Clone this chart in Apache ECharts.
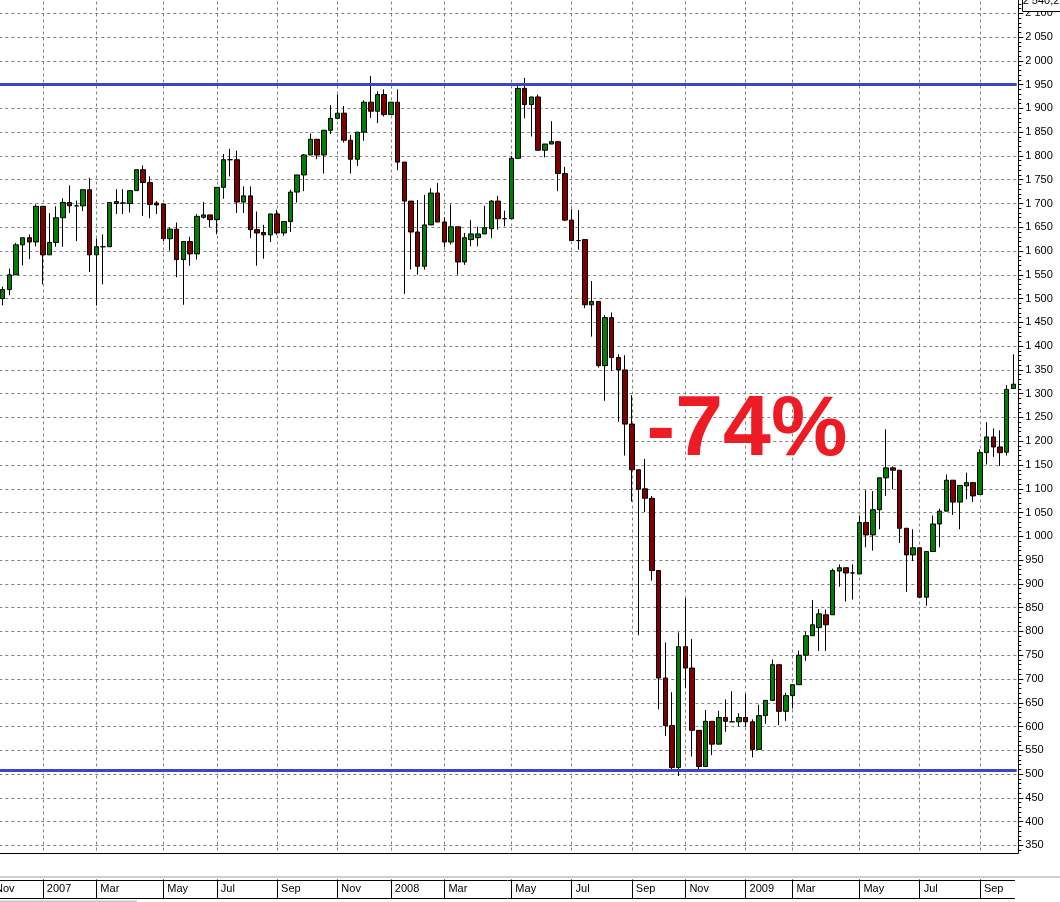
<!DOCTYPE html>
<html><head><meta charset="utf-8">
<script src="https://cdn.jsdelivr.net/npm/echarts@6/dist/echarts.min.js"></script>
<style>html,body{margin:0;padding:0;background:#fff;overflow:hidden}#c{width:1060px;height:902px}</style>
</head><body><div id="c"></div><script>
// Weekly OHLC
const opens = [1500,1519,1550,1613,1628,1619,1694,1592,1618,1670,
 1702,1695,1695,1729,1592,1609,1609,1704,1701,1700,
 1727,1771,1744,1701,1699,1626,1646,1582,1620,1594,
 1671,1676,1666,1734,1792,1792,1703,1716,1645,1639,
 1634,1678,1638,1662,1724,1760,1802,1835,1802,1854,
 1879,1890,1833,1793,1850,1913,1894,1929,1887,1913,
 1787,1705,1640,1568,1655,1722,1661,1619,1651,1577,
 1624,1628,1636,1647,1705,1668,1668,1795,1942,1908,
 1924,1812,1825,1830,1763,1665,1622,1624,1487,1494,
 1359,1460,1376,1350,1236,1140,1100,1080,928,702,
 602,514,768,723,592,516,611,563,619,610,
 610,619,610,552,623,655,730,632,665,688,
 750,791,808,835,835,927,934,923,921,1029,
 1003,1056,1123,1144,1139,1017,961,976,872,968,
 1026,1053,1118,1072,1106,1113,1088,1176,1209,1188,
 1177,1311];
const closes = [1519,1550,1613,1628,1619,1694,1592,1618,1670,1702,
 1695,1695,1729,1592,1609,1609,1702,1700,1701,1727,
 1771,1744,1698,1697,1626,1646,1582,1620,1594,1673,
 1676,1666,1734,1792,1792,1703,1716,1645,1638,1634,
 1678,1638,1662,1724,1760,1802,1835,1802,1854,1879,
 1890,1833,1793,1850,1913,1894,1929,1887,1913,1787,
 1705,1640,1568,1655,1722,1661,1619,1651,1577,1628,
 1636,1636,1649,1705,1668,1668,1795,1942,1908,1924,
 1812,1825,1830,1763,1665,1622,1622,1487,1494,1359,
 1460,1376,1350,1236,1140,1099,1080,928,702,602,
 514,768,723,592,516,611,563,619,611,610,
 619,610,552,623,655,730,632,665,688,750,
 791,814,837,814,928,934,923,923,1029,1003,
 1056,1123,1144,1139,1017,961,976,872,968,1026,
 1053,1118,1072,1107,1113,1085,1176,1209,1188,1176,
 1309,1320];
const lows = [1486,1507,1550,1570,1583,1610,1530,1592,1609,1609,
 1680,1621,1684,1556,1485,1530,1609,1678,1678,1681,
 1727,1674,1669,1678,1621,1601,1545,1487,1569,1582,
 1668,1650,1635,1710,1757,1680,1680,1627,1569,1584,
 1619,1634,1632,1640,1702,1726,1802,1793,1763,1846,
 1877,1828,1763,1779,1832,1880,1869,1883,1887,1770,
 1510,1561,1550,1561,1655,1661,1608,1614,1550,1571,
 1610,1610,1636,1627,1645,1652,1668,1795,1879,1841,
 1812,1797,1825,1726,1663,1622,1603,1480,1420,1355,
 1285,1348,1241,1170,1073,792,1051,907,636,580,
 505,496,681,537,510,516,540,563,589,610,
 600,600,535,552,606,655,603,612,638,688,
 738,791,759,759,835,894,863,867,921,977,
 970,1015,1085,1099,986,883,948,872,854,968,
 977,1053,1045,1015,1078,1072,1088,1151,1167,1148,
 1170,1311];
const highs = [1525,1563,1617,1628,1635,1698,1694,1680,1694,1711,
 1738,1706,1729,1754,1626,1635,1702,1730,1730,1727,
 1771,1780,1757,1705,1699,1649,1660,1620,1630,1678,
 1703,1676,1734,1804,1815,1811,1736,1736,1683,1655,
 1678,1687,1662,1729,1760,1804,1847,1835,1854,1907,
 1929,1905,1844,1850,1917,1968,1936,1940,1913,1940,
 1787,1705,1707,1718,1732,1743,1671,1698,1651,1638,
 1665,1651,1695,1707,1716,1685,1800,1947,1964,1924,
 1929,1825,1873,1830,1777,1688,1686,1624,1537,1494,
 1465,1471,1383,1381,1297,1140,1163,1085,928,777,
 672,798,870,784,592,635,611,633,657,674,
 628,669,615,646,655,741,730,671,688,760,
 800,866,847,846,932,941,934,941,1044,1097,
 1095,1123,1225,1147,1139,1017,1015,976,968,1044,
 1058,1130,1118,1107,1134,1113,1183,1240,1227,1223,
 1318,1383];

// Time axis tick labels (category index -> label)
const tickIdx = [6,14,24,32,41,50,58,66,76,85,94,102,111,118,128,137,146];
const tickLabels = ['2007','Mar','May','Jul','Sep','Nov','2008','Mar','May','Jul','Sep','Nov','2009','Mar','May','Jul','Sep'];
// Horizontal reference levels
const levels = [1950, 508];
const annotation = '-74%';
const priceBox = '2 540,2';

const categories = [];
for (let i = 0; i < opens.length; i++) {
  const d = new Date(Date.UTC(2006, 10, 20) + i * 7 * 86400000);
  categories.push(d.toISOString().slice(0, 10));
}
const data = opens.map((o, i) => [o, closes[i], lows[i], highs[i]]);
const tickMap = {};
tickIdx.forEach((k, i) => { tickMap[k] = tickLabels[i]; });
const isTick = (i) => tickMap[i] !== undefined;
const FONT = '"Liberation Sans", Arial, sans-serif';

const chart = echarts.init(document.getElementById('c'), null, { renderer: 'canvas' });
chart.setOption({
  animation: false,
  backgroundColor: '#ffffff',
  grid: { left: -0.7, top: -10.5, width: 1017.4, height: 879.7, containLabel: false, outerBoundsMode: 'none' },
  xAxis: {
    type: 'category', data: categories, boundaryGap: true,
    axisLine: { show: false },
    axisTick: { show: true, alignWithLabel: true, interval: (i) => isTick(i), length: 30, lineStyle: { color: '#000', width: 1 } },
    axisLabel: { interval: (i) => isTick(i), formatter: (v, i) => tickMap[i] || '', align: 'left', padding: [0, 0, 0, 4],
      margin: 20, verticalAlign: 'middle', color: '#000', fontSize: 11, fontFamily: FONT },
    splitLine: { show: true, alignWithLabel: true, interval: (i) => isTick(i), lineStyle: { color: '#808080', type: [3, 3], width: 1 } }
  },
  yAxis: {
    type: 'value', position: 'right', min: 300, max: 2150, interval: 50, offset: 1.6,
    axisLine: { show: true, lineStyle: { color: '#000', width: 1 } },
    axisTick: { show: true, length: 5, lineStyle: { color: '#000' } },
    minorTick: { show: true, splitNumber: 5, length: 3, lineStyle: { color: '#000' } },
    minorSplitLine: { show: false },
    axisLabel: { margin: 7, color: '#000', fontSize: 11, fontFamily: FONT,
      formatter: (v) => { if (v < 350 || v > 2100) return ''; return v >= 1000 ? Math.floor(v / 1000) + ' ' + String(v % 1000).padStart(3, '0') : String(v); } },
    splitLine: { show: true, lineStyle: { color: '#808080', type: [3, 3], width: 1 } }
  },
  series: [{
    type: 'candlestick', data: data, barWidth: 5, clip: false,
    itemStyle: { color: '#008000', color0: '#800000', borderColor: '#000', borderColor0: '#000', borderColorDoji: '#000', borderWidth: 1 },
    markLine: { silent: true, symbol: ['none', 'none'], label: { show: false },
      lineStyle: { color: '#3b46cc', width: 3, type: 'solid' },
      data: levels.map(v => ({ yAxis: v })) }
  }],
  graphic: [
    { type: 'rect', z: 100, shape: { x: 0, y: 853.5, width: 1060, height: 26 }, style: { fill: '#fff' } },
    { type: 'line', z: 101, shape: { x1: 0, y1: 853.5, x2: 1018.5, y2: 853.5 }, style: { stroke: '#000', lineWidth: 1 } },
    { type: 'line', z: 101, shape: { x1: 0, y1: 877, x2: 1060, y2: 877 }, style: { stroke: '#a0a0a0', lineWidth: 1 } },
    { type: 'line', z: 101, shape: { x1: 0, y1: 880.5, x2: 1015, y2: 880.5 }, style: { stroke: '#000', lineWidth: 1 } },
    { type: 'line', z: 101, shape: { x1: 0, y1: 898.5, x2: 1015, y2: 898.5 }, style: { stroke: '#000', lineWidth: 1 } },
    { type: 'rect', z: 101, shape: { x: 0, y: 900.5, width: 137, height: 3 }, style: { fill: '#b9c9dd' } },
    { type: 'text', z: 101, x: -5, y: 889, style: { text: 'Nov', font: '11px ' + FONT, fill: '#000', align: 'left', verticalAlign: 'middle' } },
    { type: 'text', z: 50, x: 747, y: 431, style: { text: annotation, font: 'bold 86px ' + FONT, fill: '#ed1c24', align: 'center', verticalAlign: 'middle' } },
    { type: 'rect', z: 101, shape: { x: 1022.5, y: -9.5, width: 38, height: 21 }, style: { fill: '#fff', stroke: '#000', lineWidth: 1 } },
    { type: 'text', z: 102, x: 1041, y: 1, style: { text: priceBox, font: '11px ' + FONT, fill: '#000', align: 'center', verticalAlign: 'middle' } }
  ]
});
</script></body></html>
